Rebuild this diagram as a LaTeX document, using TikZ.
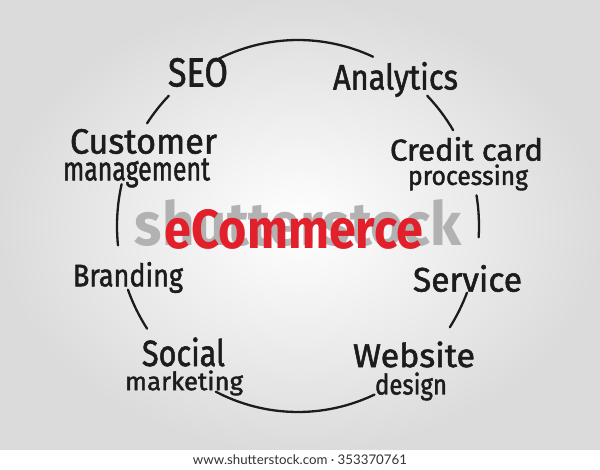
\documentclass[tikz,border=0pt]{standalone}
\usepackage{fontspec}
\setmainfont{Fira Sans}
\newfontfamily\hand{Fira Sans}[FakeBold=1.6]
\newfontfamily\footfont{Lato}
\definecolor{ink}{HTML}{1C1C1C}
\definecolor{ecred}{HTML}{E2202B}
\definecolor{wmgray}{HTML}{B2B2B2}
\definecolor{footgray}{HTML}{333333}
\begin{document}
\begin{tikzpicture}[x=1pt,y=1pt,
  lbl/.style={inner sep=0pt, text=ink, font=\hand},
  ring/.style={draw=ink, line width=2.3pt, line cap=round}]
\useasboundingbox (0,0) rectangle (600,470);
% background
\shade[inner color=white, outer color=black!14] (0,20) rectangle (600,470);
\fill[white] (0,0) rectangle (600,20);
% ring segments
\coordinate (c) at (298,244);
\foreach \a/\b in {65.5/116.5, 135.5/146.5, 167/186, 200/213.5, 243/295, 327/339, -3.5/9.5, 31/44.5}{
  \draw[ring] (c) ++(\a:181 and 186) arc[start angle=\a, end angle=\b, x radius=181, y radius=186];
}
% watermark and centre
\node[inner sep=0pt, text=wmgray] (wm) at (298.5,246.5) {\resizebox*{327pt}{47pt}{\bfseries shutterstock}};
\node[inner sep=0pt, text=ecred] (ecom) at (294,241) {\resizebox*{258pt}{40pt}{\bfseries eCommerce}};
% labels
\node[lbl] (seo) at (198,397.5) {\resizebox*{60pt}{29pt}{SEO}};
\node[lbl] (analytics) at (395.5,390.5) {\resizebox*{125pt}{35pt}{Analytics}};
\node[lbl] (credit1) at (466.5,321) {\resizebox*{153pt}{24pt}{Credit card}};
\node[lbl] (credit2) at (468,292.5) {\resizebox*{120pt}{26pt}{processing}};
\node[lbl] (cust1) at (143.5,328.5) {\resizebox*{147pt}{25pt}{Customer}};
\node[lbl] (cust2) at (136.5,297) {\resizebox*{147pt}{29pt}{management}};
\node[lbl] (brand) at (128,192.5) {\resizebox*{110pt}{31pt}{Branding}};
\node[lbl] (service) at (467.5,191.5) {\resizebox*{109pt}{27pt}{Service}};
\node[lbl] (social1) at (183.5,118) {\resizebox*{83pt}{29pt}{Social}};
\node[lbl] (social2) at (184,87) {\resizebox*{118pt}{25pt}{marketing}};
\node[lbl] (web1) at (414,115.5) {\resizebox*{122pt}{26pt}{Website}};
\node[lbl] (web2) at (411,83.5) {\resizebox*{72pt}{28pt}{design}};
% footer
\node[inner sep=0pt, text=footgray] (foot) at (300,10) {\footfont\resizebox{214pt}{!}{www.shutterstock.com · 353370761}};
\end{tikzpicture}
\end{document}
